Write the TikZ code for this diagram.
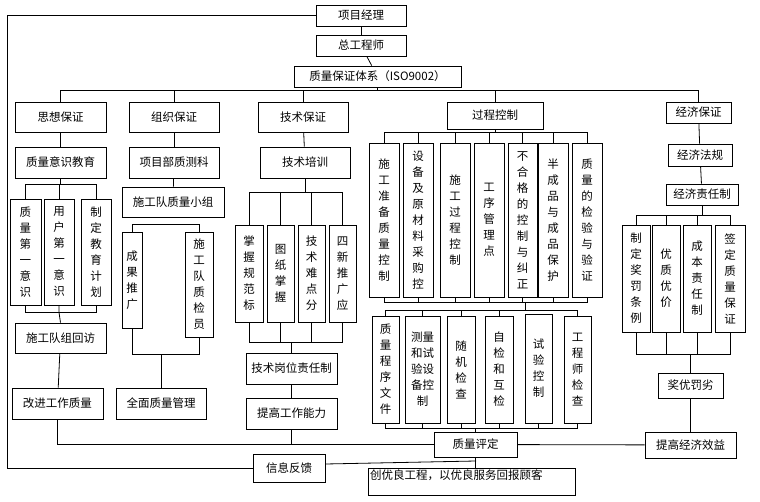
\documentclass[tikz,border=0pt]{standalone}
\usepackage{fontspec}
\setmainfont{Noto Sans CJK SC}
\usetikzlibrary{calc}
\tikzset{bx/.style={draw,thick,inner sep=0pt,align=center,font=\fontsize{11.5}{16}\selectfont},
  ln/.style={draw,thick}}
% box from pixel corners
\newcommand\bx[6]{\node[bx,minimum width={(#4-#2)*1pt},minimum height={(#5-#3)*1pt}] (#1) at ({(#2+#4)/2},{(#3+#5)/2}) {#6};}
\begin{document}
\begin{tikzpicture}[x=1pt,y=-1pt]
\useasboundingbox (0,0) rectangle (760,502);
% top
\bx{pm}{316}{5}{406}{26}{项目经理}
\bx{ce}{316}{35}{406}{56}{总工程师}
\bx{sys}{294}{66}{461}{87}{质量保证体系（ISO9002）}
\bx{sx}{15}{102}{106}{132}{思想保证}
\bx{zz}{129}{102}{219}{132}{组织保证}
\bx{js}{258}{102}{348}{132}{技术保证}
\bx{gc}{447}{102}{543}{129}{过程控制}
\bx{jj}{666}{102}{731}{123}{经济保证}
% 思想保证
\bx{ysjy}{15}{147}{106}{178}{质量意识教育}
\bx{sx1}{10}{199}{41}{305}{质\\量\\第\\一\\意\\识}
\bx{sx2}{44}{199}{74}{305}{用\\户\\第\\一\\意\\识}
\bx{sx3}{81}{199}{111}{305}{制\\定\\教\\育\\计\\划}
\bx{hf}{15}{323}{106}{353}{施工队组回访}
\bx{gjzl}{12}{388}{103}{419}{改进工作质量}
% 组织保证
\bx{zlk}{129}{147}{219}{178}{项目部质测科}
\bx{xz}{122}{187}{224}{217}{施工队质量小组}
\bx{zz1}{122}{232}{142}{328}{成\\果\\推\\广}
\bx{zz2}{185}{232}{213}{337}{施\\工\\队\\质\\检\\员}
\bx{qm}{116}{388}{206}{419}{全面质量管理}
% 技术保证
\bx{px}{260}{147}{350}{178}{技术培训}
\bx{js1}{235}{225}{263}{322}{掌\\握\\规\\范\\标}
\bx{js2}{267}{225}{294}{322}{图\\纸\\掌\\握}
\bx{js3}{298}{225}{325}{322}{技\\术\\难\\点\\分}
\bx{js4}{329}{225}{356}{322}{四\\新\\推\\广\\应}
\bx{gw}{246}{353}{337}{384}{技术岗位责任制}
\bx{nl}{246}{398}{337}{429}{提高工作能力}
% 过程控制
\bx{gc1}{369}{143}{399}{297}{施\\工\\准\\备\\质\\量\\控\\制}
\bx{gc2}{403}{143}{433}{297}{设\\备\\及\\原\\材\\料\\采\\购\\控}
\bx{gc3}{440}{143}{470}{297}{施\\工\\过\\程\\控\\制}
\bx{gc4}{474}{143}{504}{297}{工\\序\\管\\理\\点}
\bx{gc5}{508}{143}{537}{297}{不\\合\\格\\的\\控\\制\\与\\纠\\正}
\bx{gc6}{538}{143}{568}{297}{半\\成\\品\\与\\成\\品\\保\\护}
\bx{gc7}{572}{143}{602}{297}{质\\量\\的\\检\\验\\与\\验\\证}
\bx{jc1}{372}{316}{399}{423}{质\\量\\程\\序\\文\\件}
\bx{jc2}{405}{316}{440}{423}{测量\\和试\\验设\\备控\\制}
\bx{jc3}{447}{316}{475}{423}{随\\机\\检\\查}
\bx{jc4}{485}{316}{513}{423}{自\\检\\和\\互\\检}
\bx{jc5}{525}{314}{552}{423}{试\\验\\控\\制}
\bx{jc6}{564}{316}{591}{423}{工\\程\\师\\检\\查}
\bx{pd}{434}{432}{517}{457}{质量评定}
% 经济保证
\bx{fg}{668}{144}{732}{166}{经济法规}
\bx{zr}{666}{184}{738}{205}{经济责任制}
\bx{jj1}{622}{225}{650}{332}{制\\定\\奖\\罚\\条\\例}
\bx{jj2}{652}{225}{680}{332}{优\\质\\优\\价}
\bx{jj3}{683}{225}{711}{332}{成\\本\\责\\任\\制}
\bx{jj4}{715}{225}{745}{332}{签\\定\\质\\量\\保\\证}
\bx{jf}{658}{373}{723}{398}{奖优罚劣}
\bx{xy}{645}{432}{736}{458}{提高经济效益}
% bottom
\bx{fk}{253}{454}{325}{482}{信息反馈}
\bx{cy}{368}{468}{575}{495}{}
\node[bx,draw=none,anchor=north west] (cyt) at ($(cy.north west)+(2,2)$) {创优良工程，以优良服务回报顾客};
% connectors
\draw[ln] (pm) -- (ce);
\draw[ln] (ce) -- (sys);
\draw[ln] (sys.south) -- ++(0,4);
\draw[ln] (sx.north) -- ++(0,-11) -| (jj.north);
\foreach \n in {zz,js,gc} \draw[ln] (\n.north) -- ++(0,-11);
\draw[ln] (sx) -- (ysjy);
\draw[ln] (ysjy.south) -- ++(0,7);
\draw[ln] (sx1.north) -- ++(0,-14) -| (sx3.north);
\draw[ln] (sx2.north) -- ++(0,-14);
\draw[ln] (sx1.south) -- ++(0,7) -| (sx3.south);
\draw[ln] (sx2.south) -- ++(0,7) -- (hf.north);
\draw[ln] (hf) -- (gjzl);
\draw[ln] (zz) -- (zlk);
\draw[ln] (zlk) -- (xz);
\draw[ln] (zz1.north) -- ++(0,-7) -| (zz2.north);
\draw[ln] (zz1.south) -- ++(0,26) -| (zz2.south);
\draw[ln] (qm.north) -- ++(0,-34);
\draw[ln] (js) -- (px);
\draw[ln] (px.south) -- ++(0,15);
\draw[ln] (js1.north) -- ++(0,-32) -| (js4.north);
\foreach \n in {js2,js3} \draw[ln] (\n.north) -- ++(0,-32);
\draw[ln] (js1.south) -- ++(0,20) -| (js4.south);
\foreach \n in {js2,js3} \draw[ln] (\n.south) -- ++(0,20);
\draw[ln] (gw.north) -- ++(0,-11);
\draw[ln] (gw) -- (nl);
\draw[ln] (gjzl.south) |- (pd.west);
\draw[ln] (nl.south) -- ++(0,16);
\draw[ln] (gc.south) -- ++(0,4);
\draw[ln] (gc1.north) -- ++(0,-10) -| (gc7.north);
\foreach \n in {gc2,gc3,gc4,gc5,gc6} \draw[ln] (\n.north) -- ++(0,-10);
\draw[ln] (gc1.south) -- ++(0,5) -| (gc7.south);
\foreach \n in {gc2,gc3,gc4,gc5,gc6} \draw[ln] (\n.south) -- ++(0,5);
\draw[ln] (525,302) -- (525,311);
\draw[ln] (jc1.north) -- ++(0,-5) -| (jc6.north);
\foreach \n in {jc2,jc3,jc4,jc6} \draw[ln] (\n.north) -- ++(0,-5);
\draw[ln] (jc1.south) -- ++(0,5) -| (jc6.south);
\foreach \n in {jc2,jc3,jc4,jc5} \draw[ln] (\n.south) -- ++(0,5);
\draw[ln] (pd.north) -- ++(0,-4);
\draw[ln] (pd) -- (xy);
\draw[ln] (pd.south) -- (cy.north -| pd.south);
\draw[ln] (fk.east) ++(0,-4) -- (476,461);
\draw[ln] (fk.west) -- (7,468) |- (pm.west);
\draw[ln] (jj) -- (fg);
\draw[ln] (fg) -- (zr);
\draw[ln] (zr.south) -- ++(0,11);
\draw[ln] (jj1.north) -- ++(0,-9) -| (jj4.north);
\foreach \n in {jj2,jj3} \draw[ln] (\n.north) -- ++(0,-9);
\draw[ln] (jj1.south) -- ++(0,22) -| (jj4.south);
\foreach \n in {jj2,jj3} \draw[ln] (\n.south) -- ++(0,22);
\draw[ln] (jf.north) -- ++(0,-19);
\draw[ln] (jf) -- (xy);
\end{tikzpicture}
\end{document}
